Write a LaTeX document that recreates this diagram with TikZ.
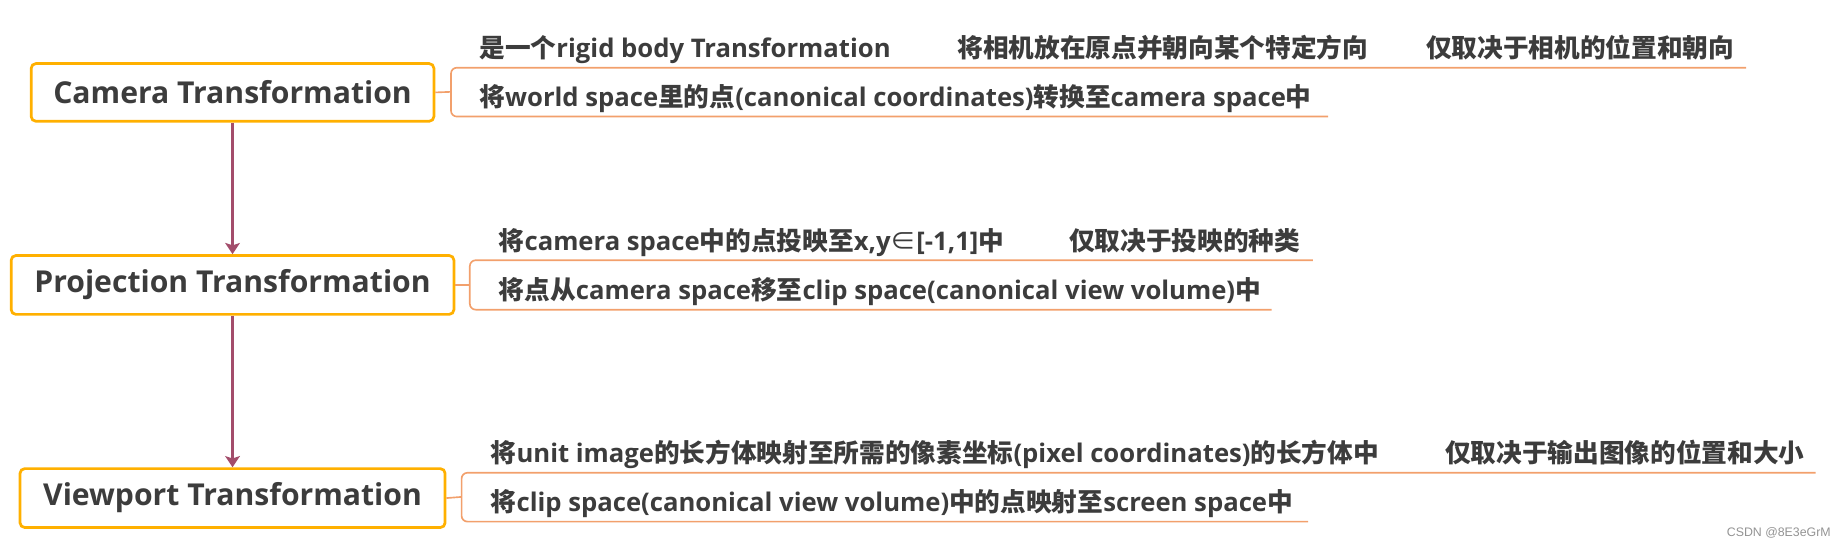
\documentclass[tikz,border=0pt]{standalone}
\usepackage{fontspec}
\setmainfont{Open Sans}
\newfontfamily\zhfont{Noto Sans CJK SC}
\newfontfamily\wmfont{Liberation Sans}
\newcommand\zhs[1]{{\zhfont #1}}
\usetikzlibrary{arrows.meta}
\definecolor{boxc}{HTML}{FFB000}
\definecolor{linec}{HTML}{F2A06C}
\definecolor{arrc}{HTML}{A34D6B}
\definecolor{txt}{HTML}{3C3C3C}
\begin{document}
\begin{tikzpicture}[x=1pt,y=-1pt,
  mainbox/.style={draw=boxc,line width=2.3pt,rounded corners=4pt,fill=white,
    text=txt,font=\fontsize{25.6}{30}\selectfont\bfseries,inner sep=0pt},
  lbl/.style={anchor=base west,inner sep=0pt,text=txt,font=\fontsize{21.8}{26}\selectfont\bfseries},
  branch/.style={draw=linec,line width=1.4pt,rounded corners=5pt},
  flow/.style={draw=arrc,line width=1.9pt,-{Stealth[length=9.5pt,width=12.5pt,inset=2pt]}}]
\useasboundingbox (0,0) rectangle (1568.6,465.2);

% main nodes
\node[mainbox,minimum width=342pt,minimum height=49pt] (cam) at (197.5,78.5) {Camera Transformation};
\node[mainbox,minimum width=376pt,minimum height=50pt] (proj) at (197.5,242) {Projection Transformation};
\node[mainbox,minimum width=361pt,minimum height=50pt] (view) at (197.5,423) {Viewport Transformation};

\draw[flow] (cam.south) -- (proj.north);
\draw[flow] (proj.south) -- (view.north);

% row 1
\coordinate (b1) at (383,78);
\draw[branch] (1483,57.5) -- (383,57.5) -- (383,99) -- (1128,99);
\draw[branch] (cam.east) -- (b1);
\node[lbl] (c1a) at (407,49) {\zhs{是一个}rigid body Transformation};
\node[lbl] (c1b) at (813,49) {\zhs{将相机放在原点并朝向某个特定方向}};
\node[lbl] (c1c) at (1211,49) {\zhs{仅取决于相机的位置和朝向}};
\node[lbl] (c1d) at (407,90.5) {\zhs{将}world space\zhs{里的点}(canonical coordinates)\zhs{转换至}camera space\zhs{中}};

% row 2
\coordinate (b2) at (399,242);
\draw[branch] (1115,221) -- (399,221) -- (399,263) -- (1080,263);
\draw[branch] (proj.east) -- (b2);
\node[lbl] (p1a) at (423.5,212.5) {\zhs{将}camera space\zhs{中的点投映至}x,y{\zhfont\mdseries ∈}[-1,1]\zhs{中}};
\node[lbl] (p1b) at (907.7,212.5) {\zhs{仅取决于投映的种类}};
\node[lbl] (p1c) at (423.5,254.5) {\zhs{将点从}camera space\zhs{移至}clip space(canonical view volume)\zhs{中}};

% row 3
\coordinate (b3) at (392,422);
\draw[branch] (1542,401.5) -- (392,401.5) -- (392,443) -- (1111,443);
\draw[branch] (view.east) -- (b3);
\node[lbl] (v1a) at (416.7,393) {\zhs{将}unit image\zhs{的长方体映射至所需的像素坐标}(pixel coordinates)\zhs{的长方体中}};
\node[lbl] (v1b) at (1227,393) {\zhs{仅取决于输出图像的位置和大小}};
\node[lbl] (v1c) at (416.7,434.5) {\zhs{将}clip space(canonical view volume)\zhs{中的点映射至}screen space\zhs{中}};

\node[anchor=east,inner sep=0pt,text=gray!85,font=\wmfont\fontsize{10.5}{12}\selectfont] (wm) at (1555,452.6) {CSDN @8E3eGrM};
\end{tikzpicture}
\end{document}
